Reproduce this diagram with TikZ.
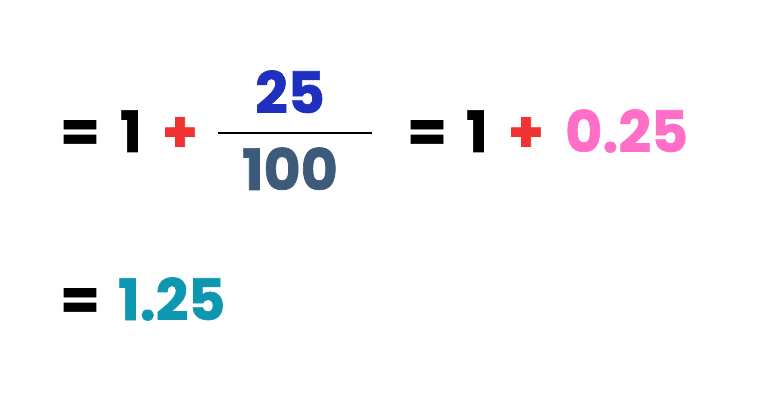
\documentclass[tikz,border=0pt]{standalone}
\usepackage{fontspec}
\setmainfont{Poppins}[FakeBold=1.2]
\usetikzlibrary{positioning}
\definecolor{plusred}{HTML}{F03232}
\definecolor{numblue}{HTML}{1F2FBF}
\definecolor{denslate}{HTML}{3D5A7A}
\definecolor{decpink}{HTML}{FF6EC7}
\definecolor{restteal}{HTML}{0E97B0}
\tikzset{term/.style={inner sep=0pt,anchor=base west,font=\fontsize{57}{60}\selectfont\bfseries}}
\begin{document}
\begin{tikzpicture}[x=1pt,y=1pt]
    \useasboundingbox[fill=white] (0,0) rectangle (768,402);
    % first line
    \node[term] (eqa) at (60,250) {=};
    \node[term] (onea) at (120,250) {1};
    \node[term,text=plusred] (plusa) at (162,250) {+};
    \coordinate (barl) at (218,269);
    \coordinate (barr) at (372,269);
    \draw[line width=2.5pt] (barl) -- (barr);
    \node[term,text=numblue,anchor=base] (num) at (290,289) {25};
    \node[term,text=denslate,anchor=base] (den) at (290,212) {100};
    \node[term] (eqb) at (407,250) {=};
    \node[term] (oneb) at (466,250) {1};
    \node[term,text=plusred] (plusb) at (508,250) {+};
    \node[term,text=decpink] (dec) at (565,250) {0.25};
    % second line
    \node[term] (eqc) at (60,82) {=};
    \node[term,text=restteal] (res) at (118,82) {1.25};
\end{tikzpicture}
\end{document}
